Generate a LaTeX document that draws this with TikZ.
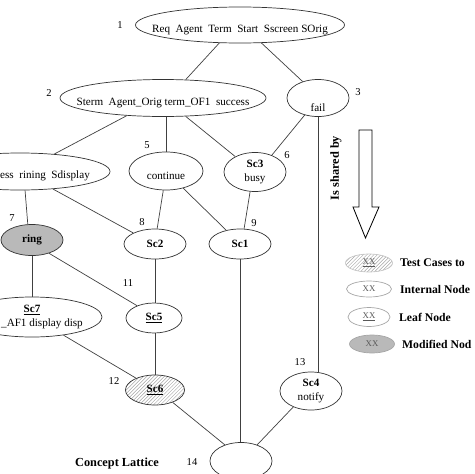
\documentclass[tikz,border=0pt]{standalone}
\usepackage{fontspec}
\setmainfont{Liberation Serif}
\usetikzlibrary{shapes.geometric,patterns}
\tikzset{
  cell/.style={ellipse, draw=black!80, line width=0.6pt, inner sep=0pt, align=center,
               font=\fontsize{9.5}{12.5}\selectfont},
  sc/.style={cell, minimum width=1.86cm, minimum height=0.9cm},
  mod/.style={fill=gray!55},
  tcase/.style={pattern=north east lines, pattern color=gray!70},
  num/.style={font=\fontsize{9}{10}\selectfont},
  key/.style={ellipse, draw=gray!70, line width=0.6pt, minimum width=1.38cm,
              minimum height=0.54cm, inner sep=0pt, font=\fontsize{7.5}{8}\selectfont,
              text=gray!70!black},
  keytext/.style={anchor=west, font=\bfseries\fontsize{10}{11}\selectfont},
  link/.style={draw=black!75, line width=0.6pt}
}
% text lowered in the ellipse, not widening it
\newcommand{\dn}[1]{\raisebox{-4pt}[\height][\depth]{\makebox[0pt]{#1}}}

\begin{document}
\begin{tikzpicture}[x=0.03cm, y=-0.03cm]
  \useasboundingbox (0,0) rectangle (474,474);
  % lattice nodes
  \node[cell, minimum width=6.27cm, minimum height=1.08cm] (n1) at (240,25) {\dn{Req~~Agent~~Term~~Start~~Sscreen SOrig}};
  \node[cell, minimum width=6.18cm, minimum height=1.11cm] (n2) at (163,98) {\dn{Sterm~~Agent\_Orig term\_OF1~~success}};
  \node[cell, minimum width=1.86cm, minimum height=1.11cm] (n3) at (318,98) {\raisebox{-8pt}[\height][\depth]{fail}};
  \node[cell, minimum width=5.4cm, minimum height=1.11cm] (n4) at (20,171.5) {\dn{\hspace*{1.5cm}ess~~rining~~Sdisplay}};
  \node[cell, minimum width=2.22cm, minimum height=1.14cm] (n5) at (166,171) {\dn{continue}};
  \node[sc, minimum height=1.17cm] (n6) at (255,172) {\textbf{Sc3}\\busy};
  \node[sc, mod, minimum height=0.93cm] (n7) at (32,240) {\textbf{ring}};
  \node[sc] (n8) at (155,244) {\textbf{Sc2}};
  \node[sc] (n9) at (240,244) {\textbf{Sc1}};
  \node[sc, minimum width=1.68cm] (sc5) at (154,318) {\textbf{\underline{Sc5}}};
  \node[cell, minimum width=4.2cm, minimum height=1.2cm] (sc7) at (32,317) {\makebox[0pt]{\textbf{\underline{Sc7}}}\\\makebox[0pt]{\hspace*{0.6cm}\_AF1 display disp}};
  \node[sc, tcase, minimum width=1.77cm] (sc6) at (155,390) {\textbf{\underline{Sc6}}};
  \node[sc, minimum height=1.14cm] (n13) at (311,391) {\textbf{Sc4}\\notify};
  \node[sc, minimum height=1.11cm] (n14) at (241,461) {};
  % numbers
  \node[num] (lab1) at (120,25) {1};
  \node[num] (lab2) at (49,93) {2};
  \node[num] (lab3) at (358,92) {3};
  \node[num] (lab5) at (147,145) {5};
  \node[num] (lab6) at (287,155) {6};
  \node[num] (lab7) at (12,218) {7};
  \node[num] (lab8) at (142,222) {8};
  \node[num] (lab9) at (254,223) {9};
  \node[num] (lab11) at (128,283) {11};
  \node[num] (lab12) at (114,381) {12};
  \node[num] (lab13) at (300,362) {13};
  \node[num] (lab14) at (192,462) {14};
  \node[font=\bfseries\fontsize{10.5}{12}\selectfont] (title) at (117,464) {Concept Lattice};
  % links
  \draw[link] (n1.221) -- (n2.39);
  \draw[link] (n1.320) -- (n3.133);
  \draw[link] (n2.206) -- (n4.27);
  \draw[link] (n5.north) -- (n5.north |- n2.south);
  \draw[link] (n2.321) -- (n6.142);
  \draw[link] (n3.232) -- (n6.45);
  \draw[link] (n3.south) -- (n3.south |- n13.north);
  \draw[link] (n4.285) -- (n7.105);
  \draw[link] (n4.332) -- (n8.153);
  \draw[link] (n5.262) -- (n8.82);
  \draw[link] (n5.315) -- (n9.135);
  \draw[link] (n6.256) -- (n9.75);
  \draw[link] (n7) -- (sc7);
  \draw[link] (n7.322) -- (sc5.144);
  \draw[link] (n8.south) -- (n8.south |- sc5.north);
  \draw[link] (n9.south) -- (n9.south |- n14.north);
  \draw[link] (sc7.330) -- (sc6.148);
  \draw[link] (sc5.south -| sc6.north) -- (sc6.north);
  \draw[link] (sc6.325) -- (n14.135);
  \draw[link] (n13.222) -- (n14.45);
  % direction arrow
  \node[rotate=90, font=\bfseries\fontsize{10.5}{12}\selectfont] (shared) at (336,168) {Is shared by};
  \draw[line width=0.7pt, fill=white] (359,130) -- (372,130) -- (372,207) -- (379,207)
    -- (365.5,238) -- (353,207) -- (359,207) -- cycle;
  % key
  \node[key, tcase, draw=gray!45, minimum width=1.41cm] (key1) at (369,263) {\underline{XX}};
  \node[key, minimum width=1.35cm, minimum height=0.48cm] (key2) at (369,289) {XX};
  \node[key, minimum width=1.26cm, minimum height=0.57cm] (key3) at (369,317) {\underline{XX}};
  \node[key, mod, minimum width=1.35cm] (key4) at (372,344) {XX};
  \node[keytext] (keytxt1) at (396,263) {Test Cases to};
  \node[keytext] (keytxt2) at (396,289) {Internal Node};
  \node[keytext] (keytxt3) at (395,317) {Leaf Node};
  \node[keytext] (keytxt4) at (398,344) {Modified Nod};
\end{tikzpicture}
\end{document}
